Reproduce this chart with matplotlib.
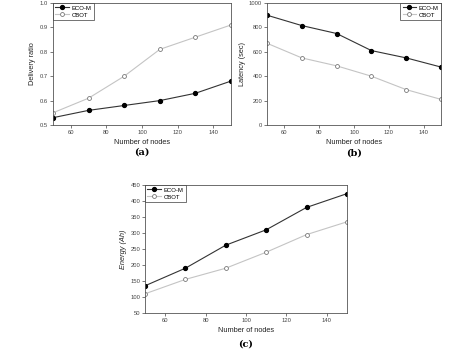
import matplotlib
matplotlib.use("Agg")
import matplotlib.pyplot as plt

plt.rcParams['font.family'] = ['Liberation Sans', 'DejaVu Sans']

nodes = [50, 70, 90, 110, 130, 150]
delivery_eco = [0.53, 0.56, 0.58, 0.60, 0.63, 0.68]
delivery_cbot = [0.55, 0.61, 0.70, 0.81, 0.86, 0.91]
latency_eco = [900, 815, 750, 610, 550, 475]
latency_cbot = [670, 550, 485, 400, 290, 210]
energy_eco = [135, 190, 262, 310, 380, 423]
energy_cbot = [110, 155, 190, 240, 295, 335]
x_ticks = [60, 80, 100, 120, 140]

W, H = 474, 355
fig = plt.figure(figsize=(W / 100, H / 100), dpi=100)
fig.patch.set_facecolor("white")

def px_axes(l, t, r, b):
    return fig.add_axes([l / W, 1 - b / H, (r - l) / W, (b - t) / H])

def style(ax, ylabel, ylim, yticks, loc, panel, label_y, italic=False):
    ax.set_xlim(50, 150)
    ax.set_xticks(x_ticks)
    ax.set_ylim(*ylim)
    ax.set_yticks(yticks)
    ax.tick_params(labelsize=4.2, length=2, width=0.5, pad=1.5, colors="#444444")
    for s in ax.spines.values():
        s.set_linewidth(0.6)
        s.set_color("#555555")
    ax.set_xlabel("Number of nodes", fontsize=5.3, labelpad=3, color="#222222")
    ax.set_ylabel(ylabel, fontsize=5.3, labelpad=2.5, color="#222222",
                  style="italic" if italic else "normal")
    leg = ax.legend(loc=loc, fontsize=4.3, frameon=True, fancybox=False,
                    borderpad=0.4, handlelength=2.2, handletextpad=0.5,
                    labelspacing=0.3, borderaxespad=0.0)
    leg.get_frame().set_edgecolor("#333333")
    leg.get_frame().set_linewidth(0.6)
    fig.text(ax.get_position().x0 + ax.get_position().width / 2, 1 - label_y / H,
             panel, ha="center", va="center", fontsize=7, fontweight="bold",
             family="DejaVu Serif")

def draw(ax, eco, cbot):
    ax.plot(nodes, eco, color="#333333", lw=0.8, marker="o", ms=2.8,
            mfc="black", mec="black", label="ECO-M")
    ax.plot(nodes, cbot, color="#c4c4c4", lw=0.8, marker="o", ms=2.8,
            mfc="white", mec="#777777", mew=0.6, label="CBOT")

ax1 = px_axes(53, 3, 231, 125)
draw(ax1, delivery_eco, delivery_cbot)
style(ax1, "Delivery ratio", (0.5, 1.0), [0.5, 0.6, 0.7, 0.8, 0.9, 1.0],
      "upper left", "(a)", 152)

ax2 = px_axes(267, 3, 441, 125)
draw(ax2, latency_eco, latency_cbot)
style(ax2, "Latency (sec)", (0, 1000), [0, 200, 400, 600, 800, 1000],
      "upper right", "(b)", 153)

ax3 = px_axes(145, 185, 347, 313)
draw(ax3, energy_eco, energy_cbot)
style(ax3, "Energy (Ah)", (50, 450), list(range(50, 451, 50)),
      "upper left", "(c)", 344, italic=True)

fig.savefig("out.png", dpi=100)
